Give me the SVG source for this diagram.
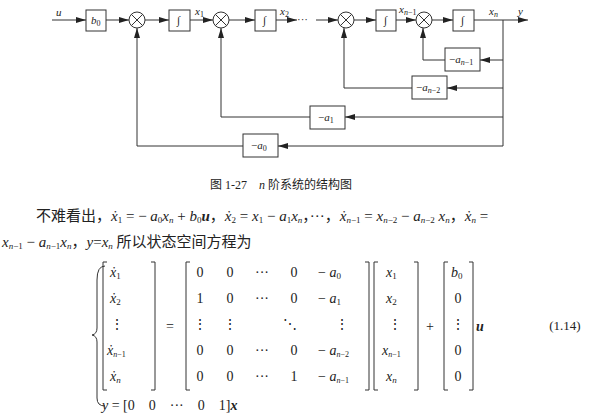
<svg xmlns="http://www.w3.org/2000/svg" width="600" height="417" viewBox="0 0 600 417">
<defs>
<marker id="ar" markerWidth="10" markerHeight="6" refX="10" refY="3" orient="auto" markerUnits="userSpaceOnUse"><path d="M0,0 L10,3 L0,6 z" fill="#222"/></marker>
</defs>
<style>
.b{fill:#fff;stroke:#333;stroke-width:1}
.l{fill:none;stroke:#333;stroke-width:1}
.m{font-family:"Liberation Serif",serif;font-style:italic;font-size:11px;fill:#222}
.t{font-family:"Liberation Serif","Noto Sans CJK SC",serif;font-size:15px;fill:#222}
.c{font-family:"Liberation Serif","Noto Sans CJK SC",serif;font-size:12px;fill:#222}
.n{font-family:"Liberation Serif",serif;font-size:14px;fill:#222;text-anchor:middle}
.i{font-family:"Liberation Serif",serif;font-style:italic;font-size:14px;fill:#222}
</style>
<rect width="600" height="417" fill="#fff"/>
<g id="connectors" class="l" marker-end="url(#ar)">
<line x1="52" y1="20" x2="86" y2="20"/>
<line x1="106" y1="20" x2="129" y2="20"/>
<line x1="145" y1="20" x2="169" y2="20"/>
<line x1="190" y1="20" x2="213" y2="20"/>
<line x1="229" y1="20" x2="255" y2="20"/>
<line x1="276" y1="20" x2="297" y2="20"/>
<line x1="316" y1="20" x2="338" y2="20"/>
<line x1="354" y1="20" x2="376" y2="20"/>
<line x1="396" y1="20" x2="416" y2="20"/>
<line x1="432" y1="20" x2="453" y2="20"/>
<line x1="474" y1="20" x2="528" y2="20"/>
<line x1="503" y1="60" x2="480" y2="60"/>
<polyline points="445,60 423,60 423,28" />
<line x1="503" y1="88" x2="447" y2="88"/>
<polyline points="412,88 344,88 344,28"/>
<line x1="503" y1="117" x2="345" y2="117"/>
<polyline points="310,117 221,117 221,28"/>
<line x1="503" y1="146" x2="278" y2="146"/>
<polyline points="243,146 137,146 137,28"/>
<line x1="503" y1="20" x2="503" y2="146" marker-end="none"/>
</g>
<text class="c" x="297" y="23" style="font-size:11px">···</text>
<g id="u"><text class="m" x="56" y="16">u</text></g>
<g id="b0"><rect class="b" x="86" y="10" width="20" height="21"/><text class="m" x="91" y="24">b<tspan font-size="8" font-style="normal" dy="2">0</tspan></text></g>
<g id="s1"><circle class="b" cx="137" cy="20" r="8"/><path class="l" d="M131.3,14.3 L142.7,25.7 M142.7,14.3 L131.3,25.7"/></g>
<g id="i1"><rect class="b" x="169" y="10" width="21" height="21"/><text class="m" x="177" y="24" font-style="normal">∫</text></g>
<g id="x1"><text class="m" x="195" y="15">x<tspan font-size="8" font-style="normal" dy="2">1</tspan></text></g>
<g id="s2"><circle class="b" cx="221" cy="20" r="8"/><path class="l" d="M215.3,14.3 L226.7,25.7 M226.7,14.3 L215.3,25.7"/></g>
<g id="i2"><rect class="b" x="255" y="10" width="21" height="21"/><text class="m" x="263" y="24" font-style="normal">∫</text></g>
<g id="x2"><text class="m" x="280" y="15">x<tspan font-size="8" font-style="normal" dy="2">2</tspan></text></g>
<g id="s3"><circle class="b" cx="346" cy="20" r="8"/><path class="l" d="M340.3,14.3 L351.7,25.7 M351.7,14.3 L340.3,25.7"/></g>
<g id="i3"><rect class="b" x="376" y="10" width="20" height="21"/><text class="m" x="384" y="24" font-style="normal">∫</text></g>
<g id="xn1"><text class="m" x="399" y="13">x<tspan font-size="8" font-style="italic" dy="2">n</tspan><tspan font-size="8" font-style="normal">−1</tspan></text></g>
<g id="s4"><circle class="b" cx="424" cy="20" r="8"/><path class="l" d="M418.3,14.3 L429.7,25.7 M429.7,14.3 L418.3,25.7"/></g>
<g id="i4"><rect class="b" x="453" y="10" width="21" height="21"/><text class="m" x="461" y="24" font-style="normal">∫</text></g>
<g id="xn"><text class="m" x="489" y="15">x<tspan font-size="8" dy="2">n</tspan></text></g>
<g id="y"><text class="m" x="518" y="15">y</text></g>
<g id="an1"><rect class="b" x="445" y="48" width="35" height="23"/><text class="m" x="449" y="63"><tspan font-style="normal">−</tspan>a<tspan font-size="8" dy="2">n</tspan><tspan font-size="8" font-style="normal">−1</tspan></text></g>
<g id="an2"><rect class="b" x="412" y="76" width="35" height="23"/><text class="m" x="416" y="91"><tspan font-style="normal">−</tspan>a<tspan font-size="8" dy="2">n</tspan><tspan font-size="8" font-style="normal">−2</tspan></text></g>
<g id="a1"><rect class="b" x="310" y="106" width="35" height="23"/><text class="m" x="318" y="121"><tspan font-style="normal">−</tspan>a<tspan font-size="8" font-style="normal" dy="2">1</tspan></text></g>
<g id="a0"><rect class="b" x="243" y="134" width="35" height="23"/><text class="m" x="251" y="149"><tspan font-style="normal">−</tspan>a<tspan font-size="8" font-style="normal" dy="2">0</tspan></text></g>
<text class="c" x="210" y="189">图 1-27　<tspan font-style="italic">n</tspan> 阶系统的结构图</text>
<text class="t" x="36" y="221">不难看出，<tspan font-style="italic">ẋ</tspan><tspan font-size="9" dy="2">1</tspan><tspan dy="-2"> = − </tspan><tspan font-style="italic">a</tspan><tspan font-size="9" dy="2">0</tspan><tspan dy="-2" font-style="italic">x</tspan><tspan font-size="9" font-style="italic" dy="2">n</tspan><tspan dy="-2"> + </tspan><tspan font-style="italic">b</tspan><tspan font-size="9" dy="2">0</tspan><tspan dy="-2" font-weight="bold" font-style="italic">u</tspan>，<tspan font-style="italic">ẋ</tspan><tspan font-size="9" dy="2">2</tspan><tspan dy="-2"> = </tspan><tspan font-style="italic">x</tspan><tspan font-size="9" dy="2">1</tspan><tspan dy="-2"> − </tspan><tspan font-style="italic">a</tspan><tspan font-size="9" dy="2">1</tspan><tspan dy="-2" font-style="italic">x</tspan><tspan font-size="9" font-style="italic" dy="2">n</tspan><tspan dy="-2">，···，</tspan><tspan font-style="italic">ẋ</tspan><tspan font-size="9" dy="2"><tspan font-style="italic">n</tspan>−1</tspan><tspan dy="-2"> = </tspan><tspan font-style="italic">x</tspan><tspan font-size="9" dy="2"><tspan font-style="italic">n</tspan>−2</tspan><tspan dy="-2"> − </tspan><tspan font-style="italic">a</tspan><tspan font-size="9" dy="2"><tspan font-style="italic">n</tspan>−2</tspan><tspan dy="-2" font-style="italic"> x</tspan><tspan font-size="9" font-style="italic" dy="2">n</tspan><tspan dy="-2">，</tspan><tspan font-style="italic">ẋ</tspan><tspan font-size="9" font-style="italic" dy="2">n</tspan><tspan dy="-2"> =</tspan></text>
<text class="t" x="2" y="247"><tspan font-style="italic">x</tspan><tspan font-size="9" dy="2"><tspan font-style="italic">n</tspan>−1</tspan><tspan dy="-2"> − </tspan><tspan font-style="italic">a</tspan><tspan font-size="9" dy="2"><tspan font-style="italic">n</tspan>−1</tspan><tspan dy="-2" font-style="italic">x</tspan><tspan font-size="9" font-style="italic" dy="2">n</tspan><tspan dy="-2">，</tspan><tspan font-style="italic">y</tspan>=<tspan font-style="italic">x</tspan><tspan font-size="9" font-style="italic" dy="2">n</tspan><tspan dy="-2"> 所以状态空间方程为</tspan></text>
<g id="equation">
<path class="l" d="M105,266 Q97,266 97,280 L97,328 Q97,334 92,335 Q97,336 97,342 L97,398 Q97,406 105,406"/>
<path class="l" d="M107,262 h-4 v128 h4 M151,262 h4 v128 h-4"/>
<text class="i" x="110" y="277">ẋ<tspan font-size="9" font-style="normal" dy="2">1</tspan></text>
<text class="i" x="110" y="303">ẋ<tspan font-size="9" font-style="normal" dy="2">2</tspan></text>
<text class="n" x="117" y="329">⋮</text>
<text class="i" x="107" y="355">ẋ<tspan font-size="8" dy="2">n</tspan><tspan font-size="8" font-style="normal">−1</tspan></text>
<text class="i" x="110" y="381">ẋ<tspan font-size="9" dy="2">n</tspan></text>
<text class="n" x="170" y="331">=</text>
<path class="l" d="M190,262 h-4 v128 h4 M365,262 h4 v128 h-4"/>
<g class="n">
<text x="200" y="277">0</text><text x="230" y="277">0</text><text x="262" y="277">···</text><text x="294" y="277">0</text>
<text x="200" y="303">1</text><text x="230" y="303">0</text><text x="262" y="303">···</text><text x="294" y="303">0</text>
<text x="200" y="329">⋮</text><text x="230" y="329">⋮</text><text x="290" y="329">⋱</text><text x="342" y="329">⋮</text>
<text x="200" y="355">0</text><text x="230" y="355">0</text><text x="262" y="355">···</text><text x="294" y="355">0</text>
<text x="200" y="381">0</text><text x="230" y="381">0</text><text x="262" y="381">···</text><text x="294" y="381">1</text>
</g>
<text class="i" x="318" y="277"><tspan font-style="normal">− </tspan>a<tspan font-size="9" font-style="normal" dy="2">0</tspan></text>
<text class="i" x="318" y="303"><tspan font-style="normal">− </tspan>a<tspan font-size="9" font-style="normal" dy="2">1</tspan></text>
<text class="i" x="318" y="355"><tspan font-style="normal">− </tspan>a<tspan font-size="8" dy="2">n</tspan><tspan font-size="8" font-style="normal">−2</tspan></text>
<text class="i" x="318" y="381"><tspan font-style="normal">− </tspan>a<tspan font-size="8" dy="2">n</tspan><tspan font-size="8" font-style="normal">−1</tspan></text>
<path class="l" d="M378,262 h-4 v128 h4 M414,262 h4 v128 h-4"/>
<text class="i" x="386" y="277">x<tspan font-size="9" font-style="normal" dy="2">1</tspan></text>
<text class="i" x="386" y="303">x<tspan font-size="9" font-style="normal" dy="2">2</tspan></text>
<text class="n" x="395" y="329">⋮</text>
<text class="i" x="382" y="355">x<tspan font-size="8" dy="2">n</tspan><tspan font-size="8" font-style="normal">−1</tspan></text>
<text class="i" x="386" y="381">x<tspan font-size="9" dy="2">n</tspan></text>
<text class="n" x="430" y="331">+</text>
<path class="l" d="M448,262 h-4 v128 h4 M469,262 h4 v128 h-4"/>
<text class="i" x="451" y="277">b<tspan font-size="9" font-style="normal" dy="2">0</tspan></text>
<text class="n" x="458" y="303">0</text><text class="n" x="458" y="329">⋮</text><text class="n" x="458" y="355">0</text><text class="n" x="458" y="381">0</text>
<text class="i" x="476" y="331" font-weight="bold">u</text>
<text class="n" x="565" y="330" style="font-size:13px">(1.14)</text>
<text class="i" x="102" y="410">y<tspan font-style="normal"> = [0　0　···　0　1]</tspan><tspan font-weight="bold">x</tspan></text>
</g>
</svg>
